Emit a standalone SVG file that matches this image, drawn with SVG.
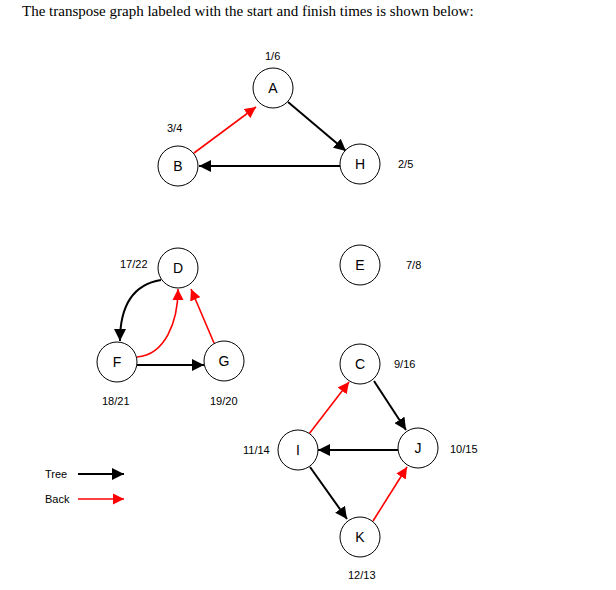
<svg xmlns="http://www.w3.org/2000/svg" width="616" height="590" viewBox="0 0 616 590">
<style>
.n circle{fill:#fff;stroke:#000;stroke-width:1}
.n text{font-family:"Liberation Sans",Arial,sans-serif;font-size:14px;text-anchor:middle;dominant-baseline:central}
.l{font-family:"Liberation Sans",Arial,sans-serif;font-size:11px;fill:#000}
.t{stroke:#000;stroke-width:2;fill:none;marker-end:url(#ab)}
.b{stroke:#f00;stroke-width:1.6;fill:none;marker-end:url(#ar)}
</style>
<defs>
<marker id="ab" viewBox="0 0 10 10" refX="10" refY="5" markerWidth="6" markerHeight="6" orient="auto" markerUnits="strokeWidth"><path d="M0,0L10,5L0,10z" fill="#000"/></marker>
<marker id="ar" viewBox="0 0 10 10" refX="10" refY="5" markerWidth="7" markerHeight="7" orient="auto" markerUnits="strokeWidth"><path d="M0,0L10,5L0,10z" fill="#f00"/></marker>
</defs>
<rect width="616" height="590" fill="#fff"/>
<text x="22" y="16" font-family="Liberation Serif,Times New Roman,serif" font-size="15">The transpose graph labeled with the start and finish times is shown below:</text>
<g id="connectors">
<line class="b" x1="194" y1="153" x2="256" y2="107"/>
<line class="t" x1="288" y1="102" x2="346" y2="151"/>
<line class="t" x1="340" y1="166" x2="199" y2="166"/>
<path class="t" d="M161,280 C130,285 120,310 120,341"/>
<path class="b" d="M137,357 C165,355 178,322 178,289"/>
<line class="b" x1="214" y1="343" x2="191" y2="289"/>
<line class="t" x1="137" y1="365" x2="204" y2="365"/>
<line class="b" x1="309" y1="434" x2="349" y2="382"/>
<line class="t" x1="374" y1="381" x2="406" y2="430"/>
<line class="t" x1="398" y1="450" x2="318" y2="450"/>
<line class="t" x1="310" y1="467" x2="347" y2="519"/>
<line class="b" x1="373" y1="521" x2="407" y2="467"/>
<line class="t" x1="78" y1="474" x2="124" y2="474"/>
<line class="b" x1="78" y1="499" x2="124" y2="499"/>
</g>
<g id="A" class="n"><circle cx="273" cy="88" r="20"/><text x="273" y="88">A</text></g>
<g id="B" class="n"><circle cx="178" cy="166" r="20"/><text x="178" y="166">B</text></g>
<g id="H" class="n"><circle cx="360" cy="164" r="20"/><text x="360" y="164">H</text></g>
<g id="D" class="n"><circle cx="178" cy="268" r="20"/><text x="178" y="268">D</text></g>
<g id="E" class="n"><circle cx="360" cy="265" r="20"/><text x="360" y="265">E</text></g>
<g id="F" class="n"><circle cx="117" cy="362" r="20"/><text x="117" y="362">F</text></g>
<g id="G" class="n"><circle cx="224" cy="361" r="20"/><text x="224" y="361">G</text></g>
<g id="C" class="n"><circle cx="360" cy="364" r="20"/><text x="360" y="364">C</text></g>
<g id="I" class="n"><circle cx="298" cy="450" r="20"/><text x="298" y="450">I</text></g>
<g id="J" class="n"><circle cx="418" cy="448" r="20"/><text x="418" y="448">J</text></g>
<g id="K" class="n"><circle cx="360" cy="537" r="20"/><text x="360" y="537">K</text></g>
<g id="labels">
<text class="l" x="265" y="60">1/6</text>
<text class="l" x="167" y="132">3/4</text>
<text class="l" x="398" y="168">2/5</text>
<text class="l" x="120" y="268">17/22</text>
<text class="l" x="406" y="269">7/8</text>
<text class="l" x="102" y="405">18/21</text>
<text class="l" x="210" y="405">19/20</text>
<text class="l" x="394" y="368">9/16</text>
<text class="l" x="243" y="454">11/14</text>
<text class="l" x="450" y="453">10/15</text>
<text class="l" x="348" y="579">12/13</text>
<text class="l" x="45" y="478">Tree</text>
<text class="l" x="45" y="503">Back</text>
</g>
</svg>
